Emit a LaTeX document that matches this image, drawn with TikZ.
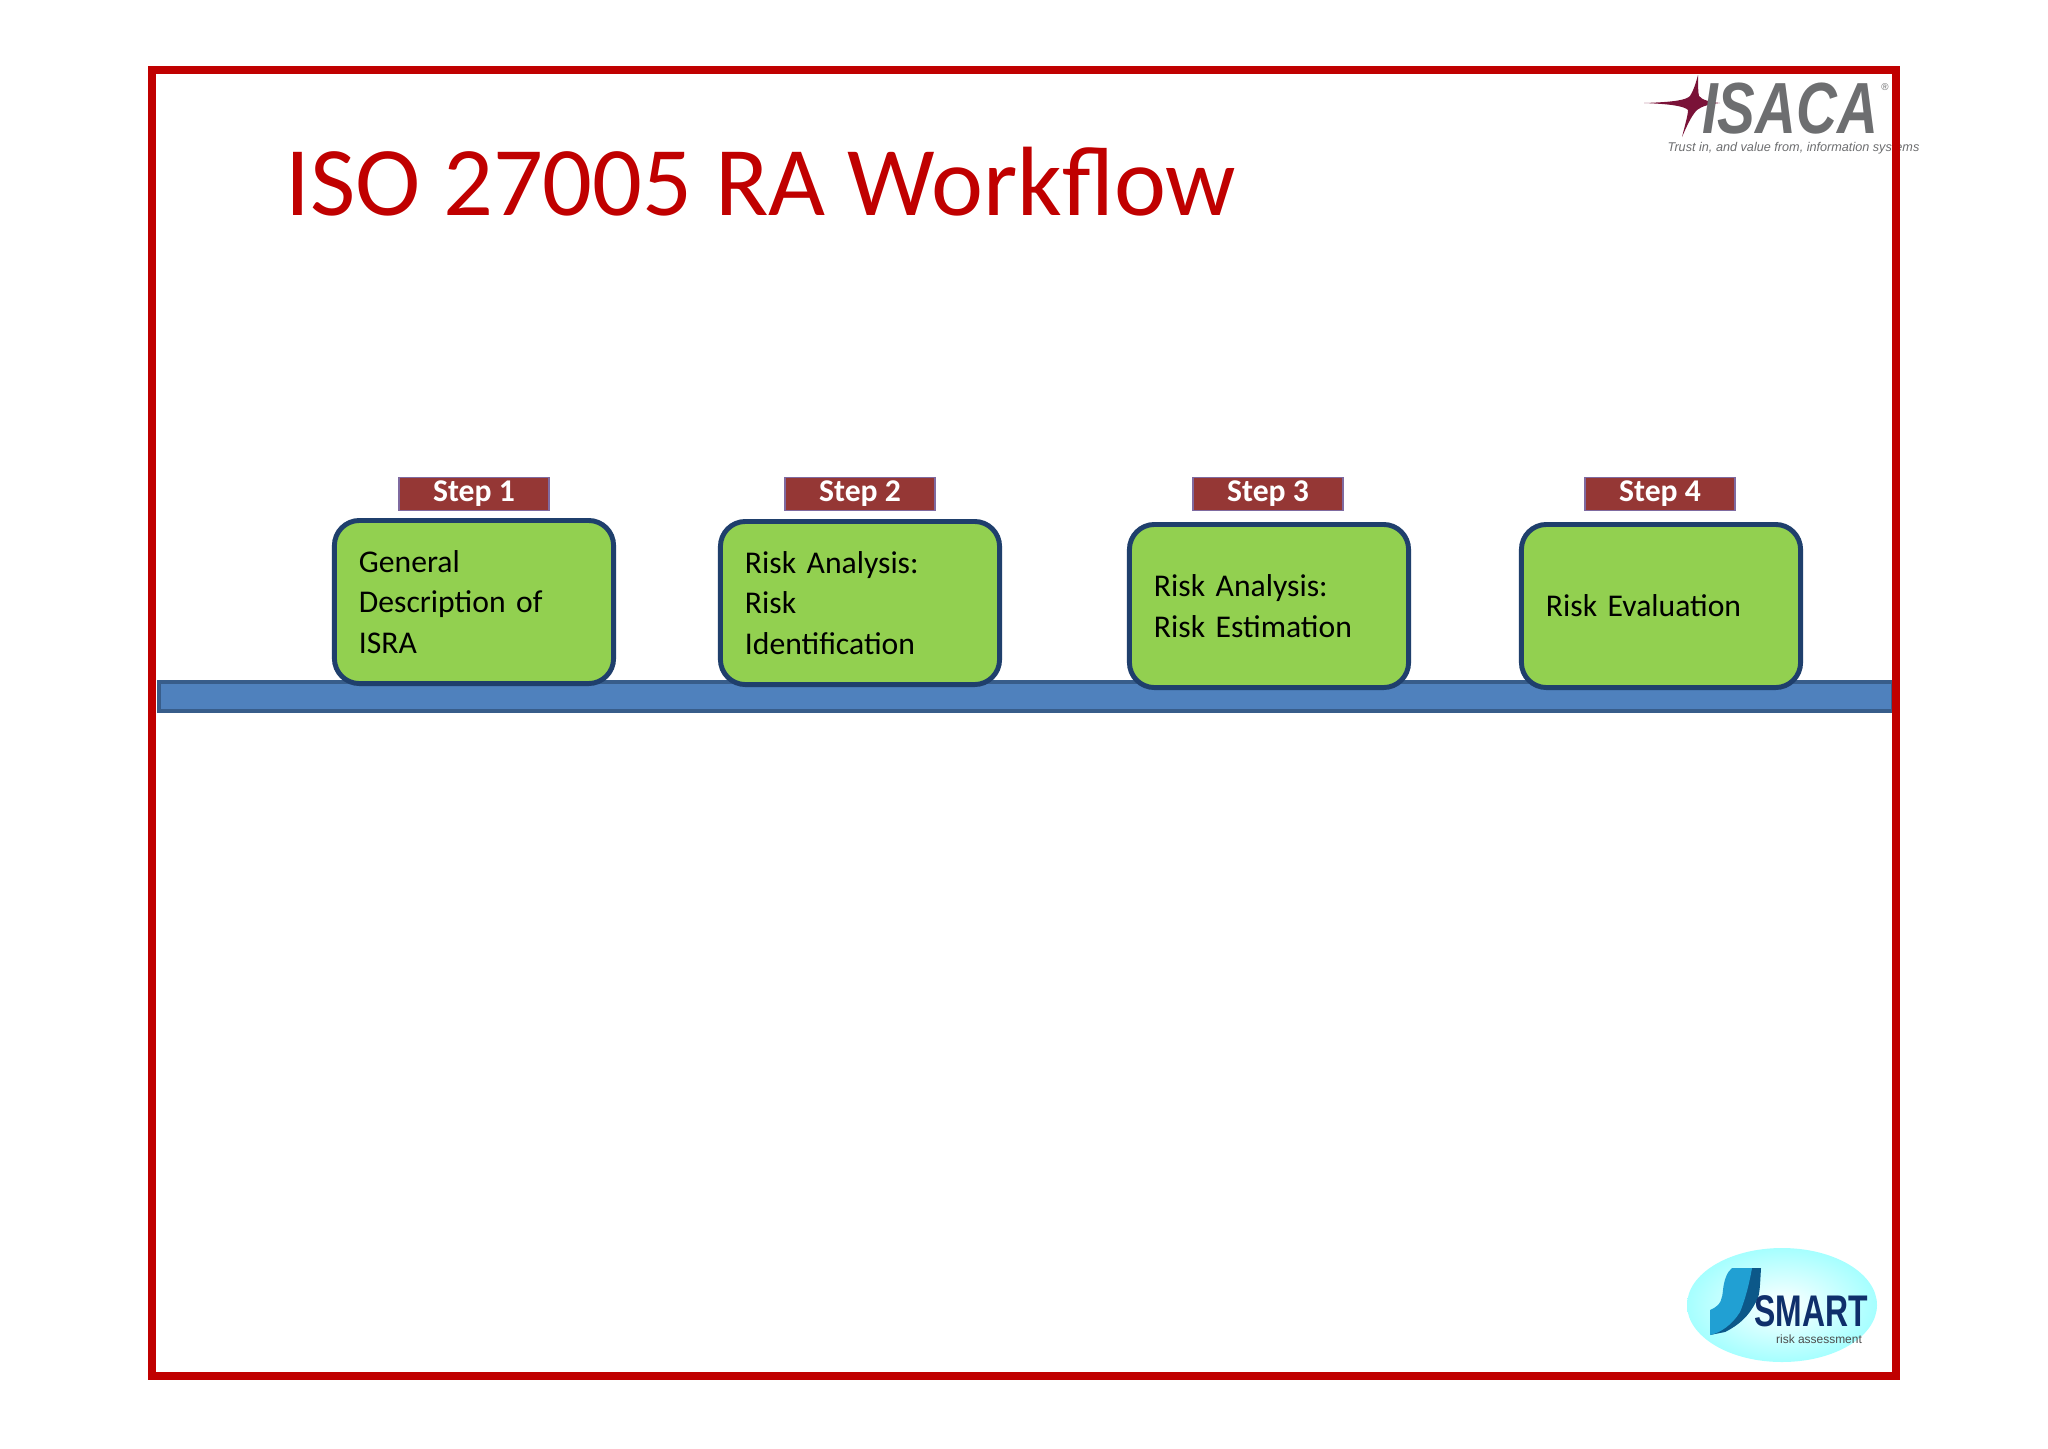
\documentclass[tikz,border=0pt]{standalone}
\usepackage{fontspec}
\setmainfont{Carlito}
\newfontfamily\logofont{Liberation Sans}
\definecolor{framered}{HTML}{C00000}
\definecolor{boxgreen}{HTML}{92D050}
\definecolor{boxnavy}{HTML}{1F3F6C}
\definecolor{barblue}{HTML}{4F81BD}
\definecolor{barline}{HTML}{385D8A}
\definecolor{tagred}{HTML}{953735}
\definecolor{tagline}{HTML}{7F6AA0}
\definecolor{isacagray}{HTML}{6D6E70}
\definecolor{starmaroon}{HTML}{7A1238}
\definecolor{smartnavy}{HTML}{0F2F6B}
\tikzset{
  stepbox/.style={rounded corners=25*0.01cm, draw=boxnavy, line width=1.4pt, fill=boxgreen, minimum width=2.79cm, minimum height=1.63cm, text width=2.3cm, inner xsep=0pt, inner ysep=0pt, align=left, text=black, font=\fontsize{9}{11.5}\selectfont},
  steptag/.style={draw=tagline, line width=0.4pt, fill=tagred, minimum width=1.5cm, minimum height=0.33cm, inner sep=0pt, text=white, font=\fontsize{9}{11}\selectfont\bfseries}
}
\begin{document}
\begin{tikzpicture}[x=0.01cm, y=-0.01cm]
\useasboundingbox (0,0) rectangle (2048,1448);
\fill[white] (0,0) rectangle (2048,1448);
\node[text=framered, anchor=base west, inner sep=0pt, font=\fontsize{28}{34}\selectfont] (title) at (285,215) {ISO 27005 RA Workflow};
\draw[barline, line width=1.2pt, fill=barblue] (159,682) rectangle (1893,711);
\node[stepbox] (boxa) at (474,602) {General\\Description of\\ISRA};
\node[stepbox] (boxb) at (860,603) {Risk Analysis:\\Risk\\Identification};
\node[stepbox] (boxc) at (1269,606) {Risk Analysis:\\Risk Estimation};
\node[stepbox] (boxd) at (1661,606) {Risk Evaluation};
\node[steptag] (taga) at (474,494) {Step 1};
\node[steptag] (tagb) at (860,494) {Step 2};
\node[steptag] (tagc) at (1268,494) {Step 3};
\node[steptag] (tagd) at (1660,494) {Step 4};
\fill[starmaroon] (1644,103) .. controls (1675,102) and (1686,100) .. (1690,96) .. controls (1694,90) and (1696,82) .. (1698,75) .. controls (1698,85) and (1698,92) .. (1699,96) .. controls (1702,100) and (1710,102) .. (1720,103) .. controls (1710,104) and (1702,106) .. (1697,110) .. controls (1691,116) and (1686,128) .. (1682,137) .. controls (1685,125) and (1688,115) .. (1688,110) .. controls (1684,106) and (1670,104) .. (1644,103) -- cycle;
\node[text=isacagray, inner sep=0pt, xscale=0.78, font=\logofont\fontsize{20.6}{22}\selectfont\bfseries\itshape] (isaca) at (1790,109) {ISACA};
\node[text=isacagray, inner sep=0pt, font=\logofont\fontsize{2.8}{3}\selectfont] (regmark) at (1885,87) {\textregistered};
\node[text=isacagray, anchor=west, inner sep=0pt, font=\logofont\fontsize{3.6}{4}\selectfont\itshape] (motto) at (1667,148) {Trust in, and value from, information systems};
\shade[inner color=white, outer color=cyan!35!white] (1782,1305) ellipse (95 and 57);
\fill[smartnavy!80!cyan] (1750,1268) -- (1761,1268) .. controls (1760,1285) and (1760,1290) .. (1758,1298) .. controls (1752,1310) and (1745,1322) .. (1725,1332) -- (1710,1335) .. controls (1725,1325) and (1740,1310) .. (1745,1290) -- cycle;
\fill[cyan!70!teal] (1732,1268) -- (1752,1268) .. controls (1749,1285) and (1745,1300) .. (1740,1312) .. controls (1732,1325) and (1720,1333) .. (1710,1335) -- (1710,1310) .. controls (1722,1305) and (1722,1298) .. (1723,1290) .. controls (1724,1280) and (1727,1272) .. (1732,1268) -- cycle;
\node[text=smartnavy, inner sep=0pt, xscale=0.72, font=\logofont\fontsize{12.6}{14}\selectfont\bfseries] (smart) at (1811,1311) {SMART};
\node[text=black!70, inner sep=0pt, font=\logofont\fontsize{3.4}{4}\selectfont] (riskword) at (1819,1339) {risk assessment};
\draw[framered, line width=2.3pt] (152,70) rectangle (1896,1376);
\end{tikzpicture}
\end{document}
